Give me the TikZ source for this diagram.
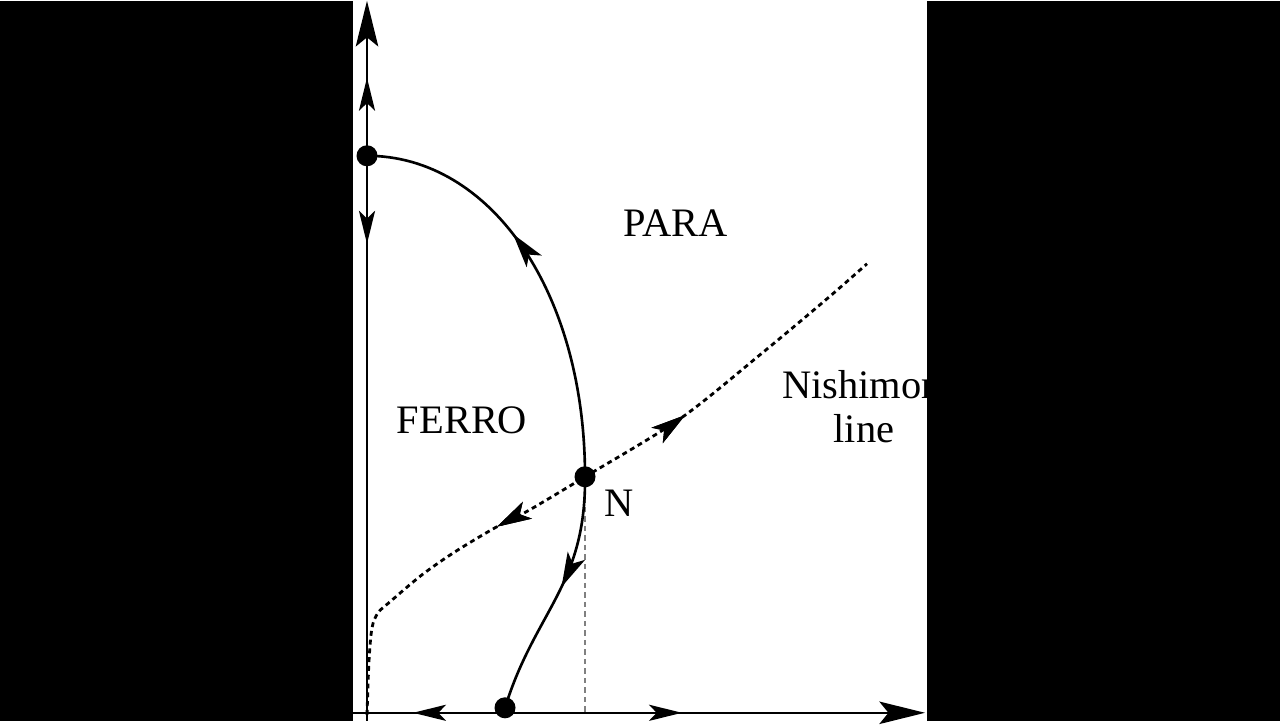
\documentclass[tikz,border=0pt]{standalone}
\usepackage{fontspec}
\setmainfont{Liberation Serif}
\usetikzlibrary{arrows.meta,decorations.markings}

\tikzset{
  axis/.style={line width=0.45pt},
  flow/.style={line width=0.75pt},
  fp/.style={circle,fill=black,inner sep=0pt,minimum size=0.21cm},
  nish/.style={line width=0.8pt,dash pattern=on 1.4pt off 1.1pt},
  lbl/.style={font=\fontsize{11.5}{12.3}\selectfont},
  tipS/.style={-{Stealth[length=9.4pt,width=4.6pt,inset=2.2pt]}},
  tipB/.style={-{Stealth[length=13pt,width=6.4pt,inset=2.6pt]}},
  midarrow/.style={postaction={decorate},decoration={markings,
    mark=at position #1 with {\pgfsetdash{}{0pt}\arrow{Stealth[length=9.8pt,width=5.4pt,inset=2.4pt]}}}},
  revarrow/.style={postaction={decorate},decoration={markings,
    mark=at position #1 with {\pgfsetdash{}{0pt}\arrowreversed{Stealth[length=9.8pt,width=5.4pt,inset=2.4pt]}}}}
}

\begin{document}
\begin{tikzpicture}[x=0.01cm,y=-0.01cm]
  % frame of the screenshot
  \fill[black] (0,0) rectangle (1280,720);
  \fill[white] (353,0) rectangle (927,720);

  % axes
  \coordinate (O) at (367,712);
  \draw[axis,tipB] (367,720) -- (367,0);
  \draw[axis,tipB] (353,712) -- (925,712);

  % fixed points
  \node[fp] (P) at (367,155) {};
  \node[fp] (N) at (585,476) {};
  \node[fp] (R) at (505,707) {};

  % flows along the axes
  \draw[axis,tipS] (P) -- ++(0,-78);
  \draw[axis,tipS] (P) -- ++(0,88);
  \draw[axis,tipS] (R |- O) -- ++(-92,0);
  \draw[axis,tipS] (R |- O) -- ++(177,0);

  % critical line and flow to R
  \draw[gray,line width=0.4pt,dash pattern=on 1.5pt off 1.2pt] (N) -- (N |- O);
  \draw[flow,midarrow=0.6] (N.center) .. controls (585,290) and (490,155) .. (P.center);
  \draw[flow,midarrow=0.46] (N.center) .. controls (586,585) and (535,610) .. (R.center);

  % Nishimori line
  \draw[nish,revarrow=0.355,midarrow=0.665] plot[smooth] coordinates
    {(367,714) (369,660) (372,627) (378,612) (390,601) (422,574) (455,551)
     (495,527) (528,510) (N.center) (680,418) (760,354) (827,298) (867,263)};

  % labels
  \node[lbl] (para) at (676,222) {PARA};
  \node[lbl] (ferro) at (462,420) {FERRO};
  \node[lbl] (nlab) at (619,502) {N};
  \node[lbl,align=center] (nline) at (864,406) {Nishimori\\line};

  % right bar covers the cut text
  \fill[black] (927,0) rectangle (1280,720);
\end{tikzpicture}
\end{document}
